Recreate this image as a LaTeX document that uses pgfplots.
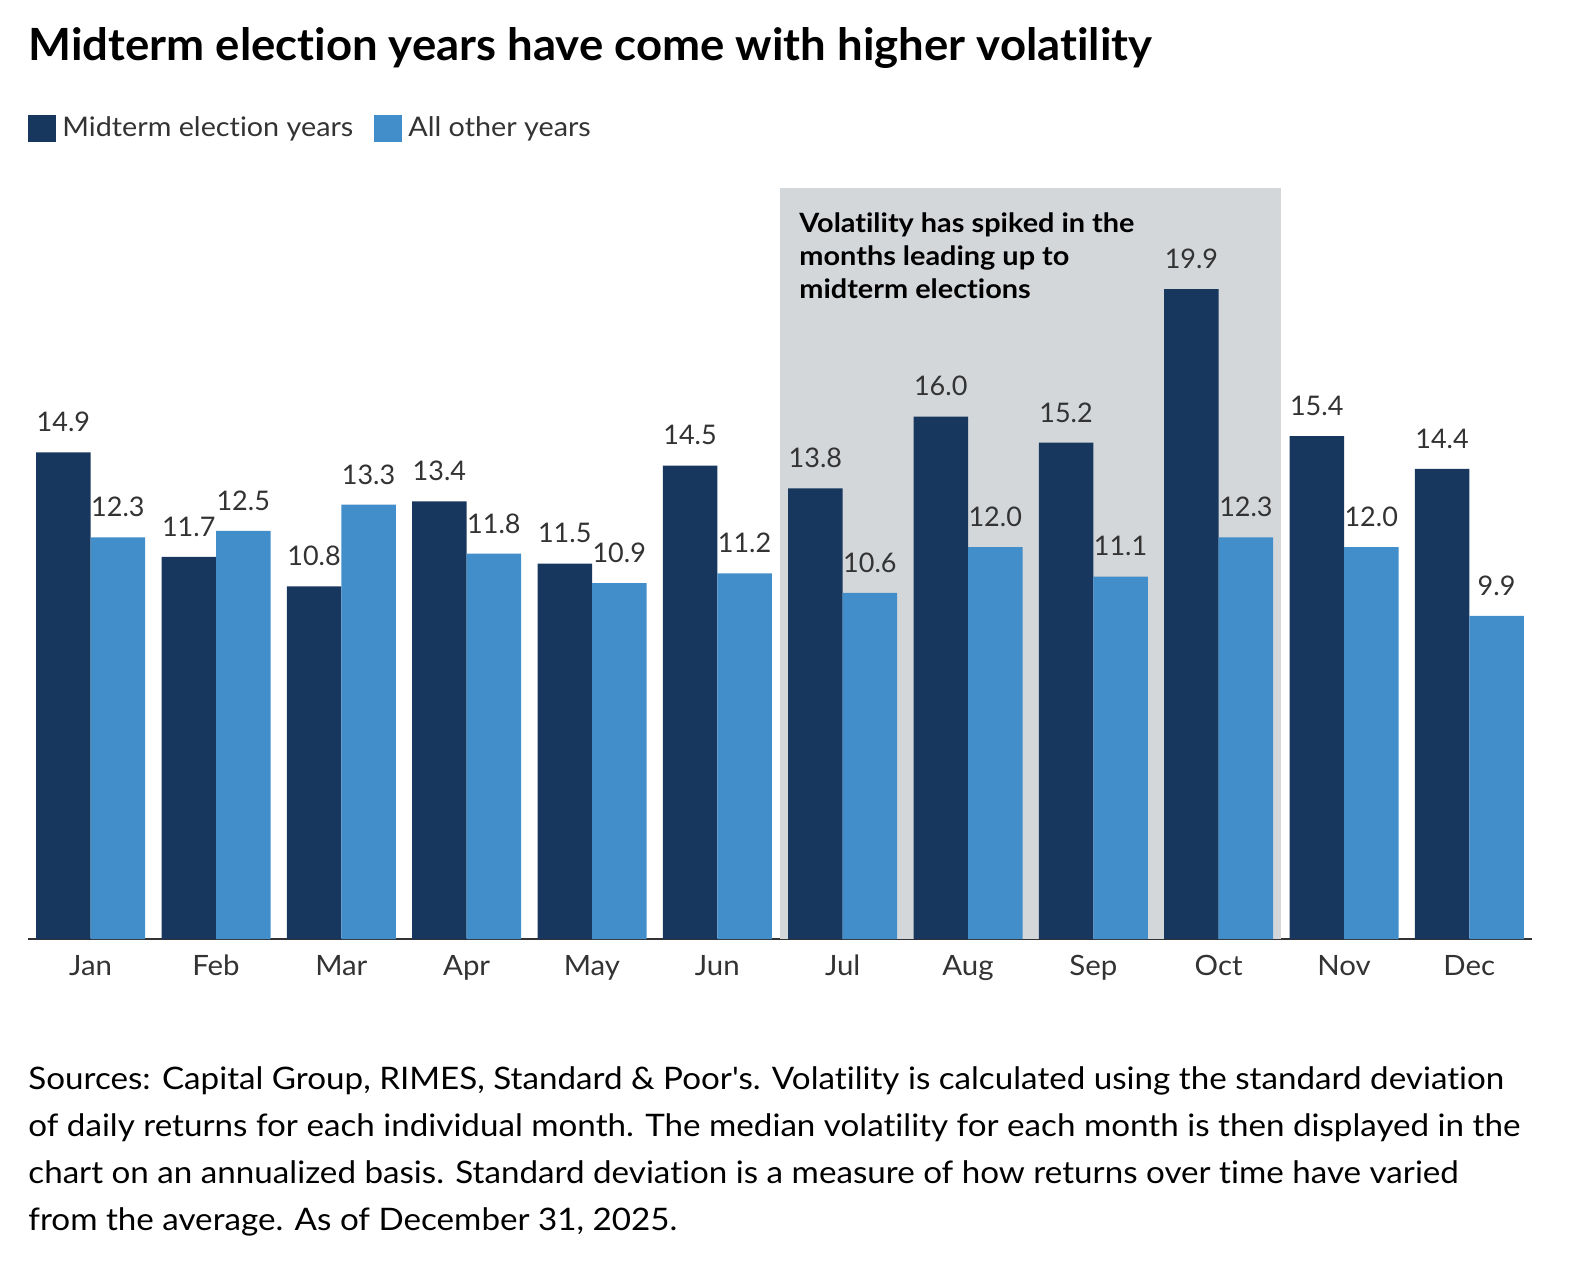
\documentclass[border=0pt]{standalone}
\usepackage{pgfplots}
\pgfplotsset{compat=1.18}
\usepackage{fontspec}
\setmainfont[Ligatures={NoCommon}]{Lato}
\newfontfamily\titlefont[FakeStretch=1.025,Ligatures={NoCommon}]{Lato}
\newfontfamily\legfont[FakeStretch=1.065,Ligatures={NoCommon}]{Lato}
\newfontfamily\notefont[FakeStretch=1.07,Ligatures={NoCommon}]{Lato}
\newfontfamily\monthfont[FakeStretch=1.05,Ligatures={NoCommon}]{Lato}
\newfontfamily\annfont[FakeStretch=1.085,Ligatures={NoCommon}]{Lato}
\definecolor{navy}{HTML}{17375E}
\definecolor{lblue}{HTML}{428ECB}
\definecolor{shadegray}{HTML}{D4D7DA}
\definecolor{txt}{HTML}{333333}
\begin{document}
\begin{tikzpicture}[x=1pt,y=1pt]
\useasboundingbox (0,0) rectangle (785,-632);
% title
\node[anchor=base west, inner sep=0pt, font=\titlefont\bfseries\fontsize{22.2}{26}\selectfont] at (14,-30) {Midterm election years have come with higher volatility};
% legend
\fill[navy] (14,-57.5) rectangle (28,-71);
\node[anchor=base west, inner sep=0pt, text=txt, font=\legfont\fontsize{13.5}{16}\selectfont] at (31,-68) {Midterm election years};
\fill[lblue] (187,-57.5) rectangle (201,-71);
\node[anchor=base west, inner sep=0pt, text=txt, font=\legfont\fontsize{13.5}{16}\selectfont] at (204,-68) {All other years};
\begin{axis}[
  at={(14pt,-469.5pt)}, anchor=south west,
  scale only axis, width=752pt, height=375.5pt,
  xmin=-0.5, xmax=11.5, ymin=0, ymax=23,
  ybar=0pt, bar width=27.25pt,
  axis x line=bottom, axis y line=none,
  x axis line style={-, draw=txt, line width=1pt},
  xtick={0,...,11},
  xticklabels={Jan,Feb,Mar,Apr,May,Jun,Jul,Aug,Sep,Oct,Nov,Dec},
  major tick length=0pt,
  xticklabel style={font=\monthfont\fontsize{14}{16}\selectfont, text=txt, anchor=base, yshift=-18pt},
  /pgf/number format/assume math mode=true,
  nodes near coords={\pgfmathprintnumber[fixed,fixed zerofill,precision=1]{\pgfplotspointmeta}},
  every node near coord/.append style={font=\fontsize{13.5}{16}\selectfont, text=txt, anchor=south, inner sep=0pt, yshift=10pt},
  clip=false,
]
\fill[shadegray] (axis cs:5.5,0) rectangle (axis cs:9.5,23);
\addplot[fill=navy, draw=none] coordinates {
(0,14.9) (1,11.7) (2,10.8) (3,13.4) (4,11.5) (5,14.5)
(6,13.8) (7,16.0) (8,15.2) (9,19.9) (10,15.4) (11,14.4)};
\addplot[fill=lblue, draw=none] coordinates {
(0,12.3) (1,12.5) (2,13.3) (3,11.8) (4,10.9) (5,11.2)
(6,10.6) (7,12.0) (8,11.1) (9,12.3) (10,12.0) (11,9.9)};
\end{axis}
% annotation
\begin{scope}[every node/.style={anchor=base west, inner sep=0pt, font=\annfont\bfseries\fontsize{13.3}{16}\selectfont}]
\node at (399.5,-116) {Volatility has spiked in the};
\node at (399.5,-132.5) {months leading up to};
\node at (399.5,-149) {midterm elections};
\end{scope}
% footnote
\begin{scope}[every node/.style={anchor=base west, inner sep=0pt, text=black, font=\notefont\fontsize{15.5}{18}\selectfont}]
\node at (14,-544.5) {Sources: Capital Group, RIMES, Standard \& Poor's. Volatility is calculated using the standard deviation};
\node at (14,-568) {of daily returns for each individual month. The median volatility for each month is then displayed in the};
\node at (14,-591.5) {chart on an annualized basis. Standard deviation is a measure of how returns over time have varied};
\node at (14,-615) {from the average. As of December 31, 2025.};
\end{scope}
\end{tikzpicture}
\end{document}
